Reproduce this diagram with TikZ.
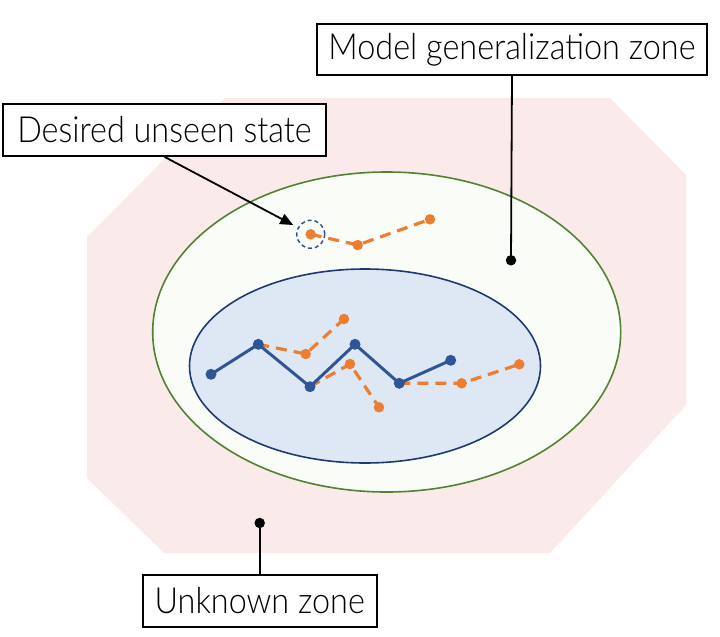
\documentclass[tikz,border=0pt]{standalone}
\usepackage{fontspec}
\setmainfont{Lato Light}[FakeStretch=0.9]
\usetikzlibrary{arrows.meta}
\definecolor{pinkfill}{HTML}{FBEAEA}
\definecolor{greenfill}{HTML}{FAFDF7}
\definecolor{greenline}{HTML}{548235}
\definecolor{bluefill}{HTML}{DEE8F5}
\definecolor{blueline}{HTML}{1F3A70}
\definecolor{ptblue}{HTML}{2F5597}
\definecolor{ptorange}{HTML}{ED7D31}
\tikzset{
  labelbox/.style={draw=black, line width=1.7pt, fill=white, inner sep=0pt, font=\fontsize{36}{42}\selectfont},
  bdot/.style={circle, fill=ptblue, inner sep=0pt, minimum size=11pt},
  odot/.style={circle, fill=ptorange, inner sep=0pt, minimum size=10.5pt},
  bpath/.style={draw=ptblue, line width=3pt, line join=round},
  opath/.style={draw=ptorange, line width=3.2pt, dash pattern=on 11pt off 7pt},
  leader/.style={draw=black, line width=1.8pt},
  enddot/.style={circle, fill=black, inner sep=0pt, minimum size=10.5pt},
}
\begin{document}
\begin{tikzpicture}[x=1pt,y=-1pt]
\useasboundingbox (0,0) rectangle (720,637);
% unknown zone
\fill[pinkfill] (225,98) -- (610,98) -- (686,175) -- (686,405) -- (550,553) -- (164,553) -- (87,478) -- (87,237) -- cycle;
% generalization zone
\draw[greenline, fill=greenfill, line width=1.6pt] (386.7,332) ellipse [x radius=234, y radius=160];
% seen zone
\draw[blueline, fill=bluefill, line width=1.6pt] (365,366) ellipse [x radius=175.5, y radius=97];
% coordinates
\coordinate (b1) at (211,374.3);
\coordinate (b2) at (258.3,344.3);
\coordinate (b3) at (310,386.7);
\coordinate (b4) at (355,344.3);
\coordinate (b5) at (399.3,383.3);
\coordinate (b6) at (450.7,360.3);
\coordinate (o1) at (305.7,354);
\coordinate (o2) at (344,319);
\coordinate (o3) at (350,364);
\coordinate (o4) at (379,407.3);
\coordinate (o5) at (461.7,383.3);
\coordinate (o6) at (519.3,364.3);
\coordinate (t1) at (310.7,234.3);
\coordinate (t2) at (357.7,245);
\coordinate (t3) at (430,219.3);
% orange dashed paths
\draw[opath] (b2) -- (o1) -- (o2);
\draw[opath] (b3) -- (o3) -- (o4);
\draw[opath] (b5) -- (o5) -- (o6);
\draw[opath] (t1) -- (t2) -- (t3);
% blue path
\draw[bpath] (b1) -- (b2) -- (b3) -- (b4) -- (b5) -- (b6);
% dots
\foreach \p in {o1,o2,o3,o4,o5,o6,t1,t2,t3} \node[odot] (\p d) at (\p) {};
\foreach \p in {b1,b2,b3,b4,b5,b6} \node[bdot] (\p d) at (\p) {};
% dashed circle
\node[circle, draw=ptblue, line width=1.5pt, dash pattern=on 4pt off 3pt, minimum size=28pt, inner sep=0pt] (dc) at (t1) {};
% label boxes
\node[labelbox, minimum width=389.4pt, minimum height=51pt] (mgz) at (512,49.5) {Model generalization zone};
\node[labelbox, minimum width=323pt, minimum height=52pt] (dus) at (164.5,130) {Desired unseen state};
\node[labelbox, minimum width=234pt, minimum height=52pt] (uz) at (259.7,601) {Unknown zone};
% leaders
\coordinate (mgzp) at (511,260.3);
\coordinate (uzp) at (259.7,523);
\draw[leader] (mgz.south) -- (mgzp);
\node[enddot] (mgzdot) at (mgzp) {};
\draw[leader] (uz.north) -- (uzp);
\node[enddot] (uzdot) at (uzp) {};
\draw[leader, -{Triangle[length=13pt,width=11pt]}, shorten >=5pt] (dus.south) -- (dc);
\end{tikzpicture}
\end{document}
